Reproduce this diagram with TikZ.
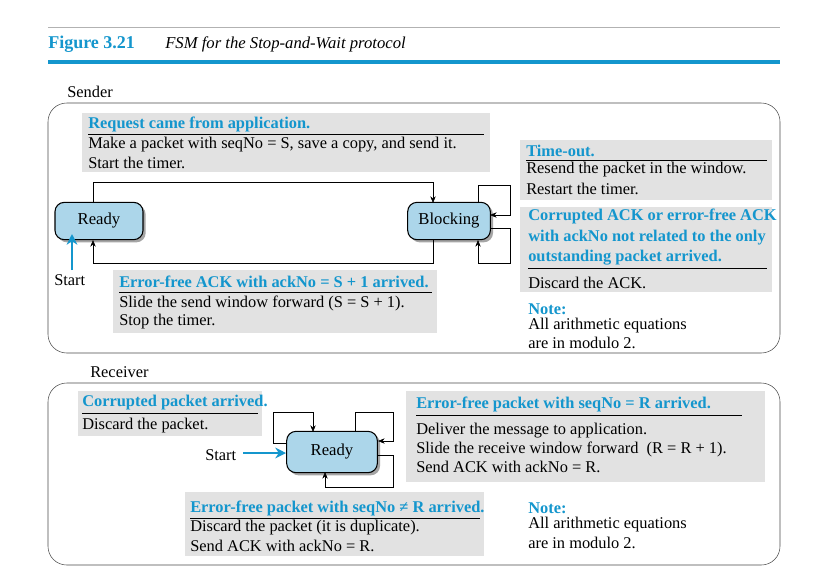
\documentclass[tikz,border=0pt]{standalone}
\usepackage{fontspec}
\setmainfont{Liberation Serif}
\usetikzlibrary{arrows.meta,shadows}
\definecolor{fblue}{RGB}{20,150,205}
\definecolor{boxgray}{RGB}{226,226,226}
\definecolor{nodefill}{RGB}{172,214,234}
\begin{document}
\begin{tikzpicture}[x=0.75pt,y=-0.75pt,
  txt/.style={anchor=west,inner sep=0pt,font=\fontsize{12.3}{14}\selectfont},
  ttl/.style={txt,text=fblue,font=\fontsize{12.3}{14}\selectfont\bfseries},
  gbox/.style={fill=boxgray,draw=none},
  st/.style={draw=black,thick,fill=nodefill,rounded corners=7pt,minimum width=#1,minimum height=28pt,inner sep=0pt,font=\fontsize{12.5}{14}\selectfont,drop shadow={shadow xshift=2pt,shadow yshift=-2pt,fill=black!70}},
  con/.style={draw=black,thin,-{Stealth[length=5pt,width=4pt]}},
  startarr/.style={draw=fblue,line width=2pt,-{Stealth[length=8pt,width=8pt]}},
  frame/.style={draw=black!70,rounded corners=14pt,thin}]
\useasboundingbox (0,0) rectangle (834,586);
\fill[white] (0,0) rectangle (834,586);
% title
\draw[black!30] (48,27) -- (780,27);
\node[txt,text=fblue,font=\fontsize{13.5}{15}\selectfont\bfseries] (fig) at (48,44) {Figure 3.21};
\node[txt,font=\fontsize{12.5}{14}\selectfont\itshape] (ftitle) at (165,44) {FSM for the Stop-and-Wait protocol};
\draw[fblue,line width=2.5pt] (48,62) -- (780,62);
% Sender
\node[txt] (sender) at (67,92) {Sender};
\draw[frame] (48,103) rectangle (780,353);
\fill[gbox] (82,113) rectangle (490,172);
\node[ttl] (rq) at (88,124) {Request came from application.};
\draw (88,134) -- (484,134);
\node[txt] (rq1) at (88,145) {Make a packet with seqNo = S, save a copy, and send it.};
\node[txt] (rq2) at (88,163) {Start the timer.};
\fill[gbox] (113,270) rectangle (437,333);
\node[ttl] (ea) at (119,282) {Error-free ACK with ackNo = S + 1 arrived.};
\draw (119,292) -- (432,292);
\node[txt] (ea1) at (119,303) {Slide the send window forward (S = S + 1).};
\node[txt] (ea2) at (119,322) {Stop the timer.};
\fill[gbox] (520,140) rectangle (772,200);
\node[ttl] (to) at (526,151) {Time-out.};
\draw (526,160) -- (767,160);
\node[txt] (to1) at (526,170) {Resend the packet in the window.};
\node[txt] (to2) at (526,189) {Restart the timer.};
\fill[gbox] (520,207) rectangle (772,292);
\node[ttl] (ca1) at (528,216) {Corrupted ACK or error-free ACK};
\node[ttl] (ca2) at (528,238) {with ackNo not related to the only};
\node[ttl] (ca3) at (528,258) {outstanding packet arrived.};
\draw (528,268) -- (767,268);
\node[txt] (ca4) at (528,283) {Discard the ACK.};
\node[ttl] (n1) at (528,309) {Note:};
\node[txt] (n1a) at (528,326) {All arithmetic equations};
\node[txt] (n1b) at (528,343) {are in modulo 2.};
\node[st=66pt] (ready) at (99,221) {Ready};
\node[st=62pt] (block) at (449,221) {Blocking};
\draw[con] (93,203) -- (93,182) -- (433,182) -- (433,203);
\draw[con] (433,240) -- (433,263) -- (93,263) -- (93,240);
\draw[con] (478,203) -- (478,185) -- (510,185) -- (510,215) -- (490,215);
\draw[con] (490,228) -- (510,228) -- (510,263) -- (478,263) -- (478,240);
\node[txt] (start1) at (54,280) {Start};
\draw[startarr] (72,270) -- (72,234);
% Receiver
\node[txt] (recv) at (90,372) {Receiver};
\draw[frame] (48,383) rectangle (780,565);
\fill[gbox] (78,391) rectangle (262,436);
\node[ttl] (cp) at (82,403) {Corrupted packet arrived.};
\draw (82,413) -- (258,413);
\node[txt] (cp1) at (82,426) {Discard the packet.};
\fill[gbox] (406,391) rectangle (765,482);
\node[ttl] (ef) at (416,404) {Error-free packet with seqNo = R arrived.};
\draw (416,415) -- (742,415);
\node[txt] (ef1) at (416,431) {Deliver the message to application.};
\node[txt] (ef2) at (416,449) {Slide the receive window forward\ \ (R = R + 1).};
\node[txt] (ef3) at (416,467) {Send ACK with ackNo = R.};
\fill[gbox] (185,492) rectangle (484,556);
\node[ttl] (en) at (190,508) {Error-free packet with seqNo ≠ R arrived.};
\draw (190,518) -- (480,518);
\node[txt] (en1) at (190,528) {Discard the packet (it is duplicate).};
\node[txt] (en2) at (190,546) {Send ACK with ackNo = R.};
\node[ttl] (n2) at (528,508) {Note:};
\node[txt] (n2a) at (528,525) {All arithmetic equations};
\node[txt] (n2b) at (528,543) {are in modulo 2.};
\node[st=68pt,minimum height=31pt] (rready) at (332,452) {Ready};
\draw[con] (287,443) -- (273,443) -- (273,412) -- (313,412) -- (313,432);
\draw[con] (355,432) -- (355,412) -- (393,412) -- (393,441) -- (378,441);
\draw[con] (378,455) -- (393,455) -- (393,487) -- (325,487) -- (325,472);
\node[txt] (start2) at (205,455) {Start};
\draw[startarr] (243,453) -- (286,453);
\end{tikzpicture}
\end{document}
